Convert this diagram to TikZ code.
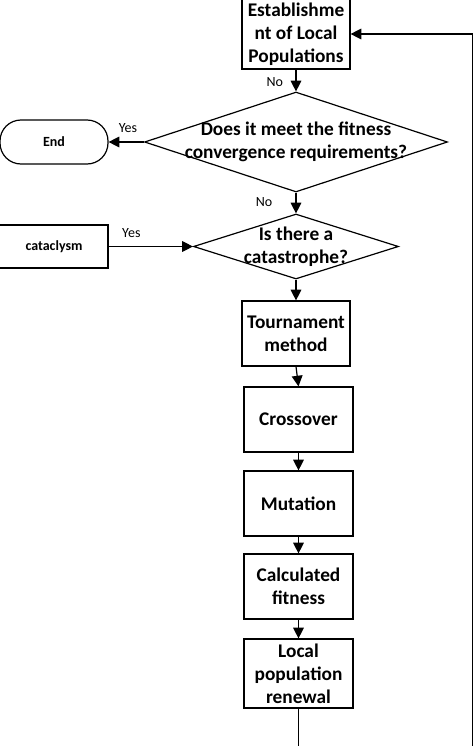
\documentclass[tikz,border=0pt]{standalone}
\usepackage{fontspec}
\setmainfont{Carlito}
\usepackage{tikz}
\usetikzlibrary{arrows.meta}
\usetikzlibrary{shapes.geometric}

\newcommand{\pix}{0.75pt}

\tikzset{
    procbox/.style={draw, line width=0.9pt, inner sep=0pt, align=center,
        minimum width=108*\pix, minimum height=65*\pix,
        font=\fontsize{14.5}{17.25}\selectfont\bfseries},
    decision/.style={draw, diamond, line width=0.9pt, inner sep=0pt},
    dtext/.style={align=center, font=\fontsize{14.5}{17.25}\selectfont\bfseries},
    smallbox/.style={draw, line width=0.9pt, inner sep=0pt,
        minimum height=44*\pix, font=\fontsize{10.5}{12}\selectfont\bfseries},
    ylabel/.style={font=\fontsize{10.5}{12}\selectfont},
    flow/.style={line width=0.9pt, -{Triangle[length=8pt,width=8pt]}}
}

\begin{document}
\begin{tikzpicture}[x=0.75pt, y=-0.75pt]
        %RANGKA
        \useasboundingbox (0,0) rectangle (474,746);
        \clip (0,0) rectangle (474,746);

        %KOTAK ATAS
        \node[procbox, minimum height=70*\pix] (estab) at (296,34) {Establishme\\nt of Local\\Populations};

        %KEPUTUSAN 1
        \node[decision, minimum width=303*\pix, minimum height=100*\pix] (conv) at (296,142) {};
        \node[dtext] (convtext) at (296,142) {Does it meet the fitness\\convergence requirements?};
        \node[smallbox, rounded corners=21*\pix, minimum width=108*\pix] (stop) at (54,142) {End};

        %KEPUTUSAN 2
        \node[decision, minimum width=205*\pix, minimum height=65*\pix] (cat) at (296,246.5) {};
        \node[dtext] (cattext) at (296,246.5) {Is there a\\catastrophe?};
        \node[smallbox, minimum width=124*\pix, minimum height=43*\pix] (cata) at (46,246.5) {};
        \node[font=\fontsize{10.5}{12}\selectfont\bfseries] (catatext) at (54,246.5) {cataclysm};

        %LANGKAH
        \node[procbox] (tour) at (296,333.5) {Tournament\\method};
        \node[procbox, minimum width=109*\pix] (cross) at (298.5,419.5) {Crossover};
        \node[procbox, minimum width=109*\pix] (mut) at (298.5,503.5) {Mutation};
        \node[procbox, minimum width=109*\pix] (calc) at (298.5,586.5) {Calculated\\fitness};
        \node[procbox, minimum width=109*\pix, minimum height=69*\pix] (renew) at (298.5,673.5) {Local\\population\\renewal};

        %PANAH
        \draw[flow] (estab.south) -- (conv.north) node[ylabel, pos=0.55, left=6pt] (no1) {No};
        \draw[flow] (conv.west) -- (stop.east) node[ylabel, pos=0.45, above=3pt] (yes1) {Yes};
        \draw[flow] (conv.south) -- (cat.north) node[ylabel, pos=0.45, left=14pt] (no2) {No};
        \draw[flow] (cata.east) -- (cat.west) node[ylabel, pos=0.27, above=3pt] (yes2) {Yes};
        \draw[flow] (cat.south) -- (tour.north);
        \draw[flow] (tour.south) -- (cross.north);
        \draw[flow] (cross.south) -- (mut.north);
        \draw[flow] (mut.south) -- (calc.north);
        \draw[flow] (calc.south) -- (renew.north);

        %BALIK
        \coordinate (loopbot) at (298.5,770);
        \coordinate (loopright) at (472.5,770);
        \draw[flow] (renew.south) -- (loopbot) -- (loopright) |- (estab.east);
    \end{tikzpicture}
\end{document}
